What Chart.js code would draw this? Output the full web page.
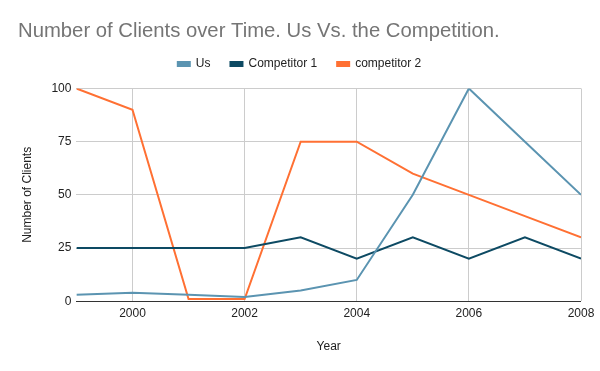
<!DOCTYPE html>
<html>
<head>
<meta charset="utf-8">
<script src="https://cdn.jsdelivr.net/npm/chart.js@4"></script>
<style>
  html, body { margin: 0; padding: 0; background: #ffffff; }
  #wrap { width: 600px; height: 371px; }
</style>
</head>
<body>
<div id="wrap"><canvas id="chart"></canvas></div>
<script>
// data
var years = [1999, 2000, 2001, 2002, 2003, 2004, 2005, 2006, 2007, 2008]
var us = [3, 4, 3, 2, 5, 10, 50, 100, 75, 50]
var competitor1 = [25, 25, 25, 25, 30, 20, 30, 20, 30, 20]
var competitor2 = [100, 90, 1, 1, 75, 75, 60, 50, 40, 30]
var xTicks = [2000, 2002, 2004, 2006, 2008]
var yTicks = [0, 25, 50, 75, 100]

var seriesNames = ['Us', 'Competitor 1', 'competitor 2']
var seriesColor = ['#5b94b1', '#0d4a63', '#ff7033']
var textColor = '#222222'
var fontFamily = '"Liberation Sans", Arial, sans-serif'

function points(values) {
    return values.map(function (v, i) { return { x: years[i], y: v } })
}

var datasets = [us, competitor1, competitor2].map(function (values, i) {
    return {
        label: seriesNames[i],
        data: points(values),
        borderColor: seriesColor[i],
        backgroundColor: seriesColor[i],
        borderWidth: 2,
        pointRadius: 0,
        tension: 0
    }
})

// a bit of extra room under the legend, like the sheets chart
var legendGap = {
    id: 'legendGap',
    beforeLayout: function (chart) {
        var lg = chart.legend
        if (lg && !lg._gapDone) {
            var fit = lg.fit
            lg.fit = function () {
                fit.call(this)
                this.height += 8.5
            }
            lg._gapDone = true
        }
    }
}

Chart.defaults.font.family = fontFamily
Chart.defaults.color = textColor

new Chart(document.getElementById('chart').getContext('2d'), {
    type: 'line',
    data: { datasets: datasets },
    plugins: [legendGap],
    options: {
        responsive: true,
        maintainAspectRatio: false,
        animation: false,
        layout: { padding: { left: 18, right: 19, top: 0, bottom: 17 } },
        plugins: {
            title: {
                display: true,
                text: 'Number of Clients over Time. Us Vs. the Competition.',
                align: 'start',
                color: '#757575',
                font: { size: 20.3, weight: 'normal', lineHeight: 0.6 },
                padding: { top: 25.8, bottom: 0 }
            },
            legend: {
                position: 'top',
                labels: {
                    boxWidth: 12,
                    boxHeight: 4,
                    padding: 20,
                    color: textColor,
                    font: { size: 12 }
                }
            },
            tooltip: { enabled: false }
        },
        scales: {
            x: {
                type: 'linear',
                min: 1999,
                max: 2008,
                afterBuildTicks: function (scale) {
                    scale.ticks = xTicks.map(function (v) { return { value: v } })
                },
                ticks: {
                    color: textColor,
                    font: { size: 12 },
                    padding: 5,
                    maxRotation: 0,
                    callback: function (v) { return String(v) }
                },
                grid: { color: '#cccccc', drawTicks: false },
                border: { display: false },
                title: {
                    display: true,
                    text: 'Year',
                    color: textColor,
                    font: { size: 12 },
                    padding: { top: 14, bottom: 0 }
                }
            },
            y: {
                min: 0,
                max: 100,
                afterBuildTicks: function (scale) {
                    scale.ticks = yTicks.map(function (v) { return { value: v } })
                },
                ticks: { color: textColor, font: { size: 12 }, padding: 5 },
                grid: {
                    drawTicks: false,
                    color: function (ctx) { return ctx.tick && ctx.tick.value === 0 ? '#333333' : '#cccccc' }
                },
                border: { display: false },
                title: {
                    display: true,
                    text: 'Number of Clients',
                    color: textColor,
                    font: { size: 12 },
                    padding: { top: 2, bottom: 12 }
                }
            }
        }
    }
})
</script>
</body>
</html>
